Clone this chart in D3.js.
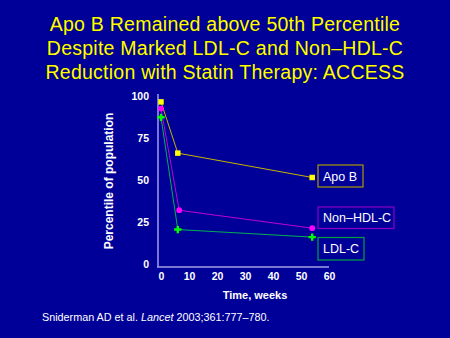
<!DOCTYPE html>
<html><head><meta charset="utf-8">
<script src="https://cdn.jsdelivr.net/npm/d3@7"></script>
<style>html,body{margin:0;padding:0;background:#000099;}svg{display:block;}</style>
</head><body>
<script>
const titleLines = ["Apo B Remained above 50th Percentile", "Despite Marked LDL-C and Non\u2013HDL-C", "Reduction with Statin Therapy: ACCESS"];
const xTicks = [0, 10, 20, 30, 40, 50, 60];
const yTicks = [0, 25, 50, 75, 100];
const apoB = [[0, 96.5], [6, 66], [54, 51.5]];
const nonHDL = [[0, 92.5], [6.5, 32], [54, 21.3]];
const ldl = [[0, 87.3], [6, 20.5], [54, 16]];
const seriesNames = ["Apo B", "Non\u2013HDL-C", "LDL-C"];

const W = 450, H = 338;
const svg = d3.select("body").append("svg").attr("width", W).attr("height", H);
svg.append("rect").attr("width", W).attr("height", H).attr("fill", "#000099");

const font = "Liberation Sans, Arial, sans-serif";
// Title
const tY = [31, 55, 79];
titleLines.forEach((t, i) => {
  svg.append("text").attr("x", 225).attr("y", tY[i]).attr("text-anchor", "middle")
    .attr("font-family", font).attr("font-size", 19.5).attr("letter-spacing", 0.25).attr("fill", "#ffff00")
    .attr("stroke", "#000033").attr("stroke-width", 0.5).attr("paint-order", "stroke")
    .text(t);
});

const x = d3.scaleLinear().domain([0, 60]).range([161, 329]);
const y = d3.scaleLinear().domain([0, 100]).range([264, 96]);
const axisCol = "#a0a0e8";

// axis lines
svg.append("line").attr("x1", 158).attr("x2", 158).attr("y1", 94).attr("y2", 267).attr("stroke", axisCol).attr("stroke-width", 1.5);
svg.append("line").attr("x1", 157).attr("x2", 329).attr("y1", 267).attr("y2", 267).attr("stroke", axisCol).attr("stroke-width", 1.5);

const yAxis = d3.axisLeft(y).tickValues(yTicks).tickSize(0).tickPadding(0);
const gy = svg.append("g").attr("transform", "translate(149,0)").call(yAxis);
gy.select(".domain").remove();
gy.selectAll("text").attr("font-family", font).attr("font-size", 10.5).attr("font-weight", "bold").attr("fill", "#ffffff").attr("dy", "0.35em");

const xAxis = d3.axisBottom(x).tickValues(xTicks).tickSize(0).tickPadding(0);
const gx = svg.append("g").attr("transform", "translate(0,273)").call(xAxis);
gx.select(".domain").remove();
gx.selectAll("text").attr("font-family", font).attr("font-size", 10.5).attr("font-weight", "bold").attr("fill", "#ffffff").attr("dy", "0.71em");

svg.append("text").attr("x", 255).attr("y", 299).attr("text-anchor", "middle")
  .attr("font-family", font).attr("font-size", 11).attr("font-weight", "bold").attr("fill", "#ffffff").text("Time, weeks");
svg.append("text").attr("transform", "translate(113,181) rotate(-90)").attr("text-anchor", "middle")
  .attr("font-family", font).attr("font-size", 12).attr("font-weight", "bold").attr("fill", "#ffffff").text("Percentile of population");

const line = d3.line().x(d => x(d[0])).y(d => y(d[1]));
const series = [
  {data: apoB, line: "#c8b400", mark: "#ffff00", sym: d3.symbolSquare, size: 30, box: "#a89a00"},
  {data: nonHDL, line: "#c000d0", mark: "#ff00ff", sym: d3.symbolCircle, size: 26, box: "#8a00c8"},
  {data: ldl, line: "#00b050", mark: "#00ff00", sym: d3.symbolCross, size: 30, box: "#00a040"}
];
series.forEach(s => {
  svg.append("path").attr("d", line(s.data)).attr("fill", "none").attr("stroke", s.line).attr("stroke-width", 1);
});
series.forEach(s => {
  svg.selectAll(null).data(s.data).enter().append("path")
    .attr("transform", d => `translate(${x(d[0])},${y(d[1])})`)
    .attr("d", d3.symbol().type(s.sym).size(s.size)).attr("fill", s.mark);
});

// legend boxes
const boxes = [[318, 165, 45, 22], [318, 207, 76, 21.5], [318, 237.5, 46, 22.5]];
boxes.forEach((b, i) => {
  svg.append("rect").attr("x", b[0]).attr("y", b[1]).attr("width", b[2]).attr("height", b[3])
    .attr("fill", "none").attr("stroke", series[i].box).attr("stroke-width", 1.2);
  svg.append("text").attr("x", b[0] + 5).attr("y", b[1] + b[3] / 2 + 4.5)
    .attr("font-family", font).attr("font-size", 12.5).attr("fill", "#ffffff").text(seriesNames[i]);
});

// citation
const cit = svg.append("text").attr("x", 42).attr("y", 321).attr("font-family", font).attr("font-size", 10.8).attr("fill", "#ffffff");
cit.append("tspan").text("Sniderman AD et al. ");
cit.append("tspan").attr("font-style", "italic").text("Lancet");
cit.append("tspan").text(" 2003;361:777\u2013780.");
</script>
</body></html>
